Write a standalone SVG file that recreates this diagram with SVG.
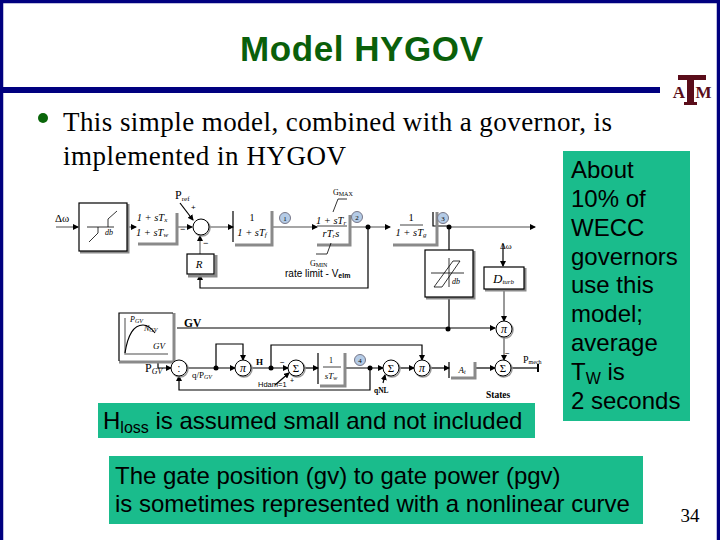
<svg xmlns="http://www.w3.org/2000/svg" width="720" height="540" viewBox="0 0 720 540">
<style>
.t{font-family:"Liberation Sans",Arial,sans-serif;fill:#000}
.s{font-family:"Liberation Serif","Times New Roman",serif;fill:#000}
.i{font-style:italic}
.n{font-size:8px}
.c{text-anchor:middle}
.l{fill:none;stroke:#000;stroke-width:1.2}
.h{fill:none;stroke:#000;stroke-width:.8}
.g{fill:none;stroke:#888;stroke-width:1.5}
.sh{fill:none;stroke:#8a8a8a;stroke-width:3}
.f{fill:none;stroke:#444;stroke-width:1}
.b{fill:#fff;stroke:#000;stroke-width:1.2}
.o{fill:#fff;stroke:#000;stroke-width:1}
.cs{fill:none;stroke:#999;stroke-width:1.5}
.st{fill:#b4cbe6;stroke:#778;stroke-width:1}
.green{fill:#1abc8c}
.lg{fill:#5a0d1a;font-family:"Liberation Serif",serif;font-weight:bold;font-size:17px;text-anchor:middle}
</style>
<defs>
<marker id="a" markerWidth="6" markerHeight="6" refX="5" refY="3" orient="auto" markerUnits="userSpaceOnUse"><path d="M0 0L6 3L0 6Z" fill="#000"/></marker>
</defs>
<rect width="720" height="540" fill="#fff"/>
<path d="M0 1.500H720M1.500 0V540M718.500 0V540" fill="none" stroke="#00007f" stroke-width="3.500"/>
<path d="M0 90H660" stroke="#00007f" stroke-width="6"/>
<g id="logo"><path d="M678 75H706V80H694V102H697V105H684V102H687V80H678Z" fill="#5a0d1a"/><text x="679" y="98" class="lg">A</text><text x="703.500" y="98" class="lg">M</text></g>
<text id="title" x="240" y="61" class="t" font-size="35" font-weight="bold" textLength="243" style="fill:#0a5f0a">Model HYGOV</text>
<g id="bullet"><circle cx="43" cy="118" r="5" fill="#0a660a"/></g>
<g id="body"><text x="63" y="131" class="s" font-size="27" textLength="549">This simple model, combined with a governor, is</text><text x="63" y="165" class="s" font-size="27" textLength="283">implemented in HYGOV</text></g>
<g id="note-wecc"><rect x="563" y="151" width="127" height="270" class="green"/><g class="t" font-size="24"><text x="571" y="178">About</text><text x="571" y="207">10% of</text><text x="571" y="236">WECC</text><text x="571" y="265">governors</text><text x="571" y="293">use this</text><text x="571" y="322">model;</text><text x="571" y="351">average</text><text x="571" y="380">T<tspan font-size="16" dy="4">W</tspan><tspan dy="-4"> is</tspan></text><text x="571" y="409">2 seconds</text></g></g>
<g id="note-hloss"><rect x="98" y="403" width="437" height="35" class="green"/><text x="103" y="429" class="t" font-size="24">H<tspan font-size="16" dy="4">loss</tspan><tspan dy="-4"> is assumed small and not included</tspan></text></g>
<g id="note-gate"><rect x="109" y="456" width="534" height="68" class="green"/><g class="t" font-size="24"><text x="115" y="484">The gate position (gv) to gate power (pgv)</text><text x="115" y="512">is sometimes represented with a nonlinear curve</text></g></g>
<text id="page" x="690" y="522" class="s c" font-size="19">34</text>
<g id="connectors">
<path class="g" d="M56 227H78" marker-end="url(#a)"/><path class="g" d="M128 227H136" marker-end="url(#a)"/><path class="g" d="M178 227H192" marker-end="url(#a)"/><path class="g" d="M209 227H233" marker-end="url(#a)"/><path class="g" d="M272 227H317" marker-end="url(#a)"/>
<path class="g" d="M350 227H390" marker-end="url(#a)"/><path class="g" d="M449 227H535" marker-end="url(#a)"/>
<path class="l" d="M180 203L193 220" marker-end="url(#a)"/>
<path class="g" d="M200 254V236" marker-end="url(#a)"/>
<path class="l" d="M368 227V288H200V275" marker-end="url(#a)"/>
<path class="l" d="M433 212V226H449M449 227V250M449 297V329"/>
<path class="l" d="M503 244V266" marker-end="url(#a)"/>
<path class="h" d="M504 289V321" marker-end="url(#a)"/>
<path class="l" d="M177 328H495" marker-end="url(#a)"/>
<path class="l" d="M158 363V368H171" marker-end="url(#a)"/>
<path class="l" d="M187 368H235" marker-end="url(#a)"/>
<path class="l" d="M216 368V344H243V360" marker-end="url(#a)"/>
<path class="l" d="M251 368H288" marker-end="url(#a)"/>
<path class="l" d="M271 368V345H422V360" marker-end="url(#a)"/>
<path class="l" d="M275 385L289 373" marker-end="url(#a)"/>
<path class="l" d="M304 368H318" marker-end="url(#a)"/>
<path class="l" d="M345 368H383" marker-end="url(#a)"/>
<path class="l" d="M370 368V390H179V376" marker-end="url(#a)"/>
<path class="l" d="M383 383L385 375" marker-end="url(#a)"/>
<path class="l" d="M399 368H414" marker-end="url(#a)"/>
<path class="l" d="M430 368H449" marker-end="url(#a)"/>
<path class="l" d="M475 368H495" marker-end="url(#a)"/>
<path class="h" d="M504 337V360" marker-end="url(#a)"/>
<path class="l" d="M511 368H538"/><path d="M538 364V372" stroke="#000" stroke-width="2"/>
<circle cx="368" cy="227" r="2.500"/><circle cx="449" cy="227" r="2.500"/><circle cx="448" cy="329" r="2.500"/><circle cx="216" cy="368" r="2.500"/><circle cx="271" cy="368" r="2.500"/><circle cx="370" cy="368" r="2.500"/>
</g>
<g id="db1"><path class="sh" d="M128 204V252H80" stroke-width="2"/><rect x="79" y="203" width="48" height="48" class="b"/><path class="h" d="M87 227H114M108 227V219L117 211M98 227V233L89 242"/><text x="105" y="235" class="s i n">db</text></g>
<g id="leadlag"><path class="sh" d="M177 213V244H138"/><text x="152" y="221" class="s c i" font-size="10.500">1 + sT<tspan font-size="7" dy="1">x</tspan></text><text x="152" y="236" class="s c i" font-size="10.500">1 + sT<tspan font-size="7" dy="1">w</tspan></text></g>
<g id="sum1"><circle cx="202" cy="228" r="8" class="cs"/><circle cx="201" cy="227" r="8" class="o"/><text x="180" y="232" class="t" font-size="9">−</text><text x="191" y="210" class="t" font-size="8">+</text><text x="203" y="246" class="t" font-size="9">−</text><text x="175" y="199" class="s" font-size="12">P<tspan font-size="7" dy="2">ref</tspan></text><text x="55" y="222" class="s" font-size="11">Δω</text></g>
<g id="R"><path class="sh" d="M216 255V276H188" stroke-width="2"/><rect x="187" y="254" width="27" height="20" class="b"/><text x="199" y="268" class="s c i" font-size="11">R</text></g>
<g id="filter1"><path class="l" d="M233 211V242"/><path class="sh" d="M272 211V245H235"/><text x="252" y="221" class="s c" font-size="10">1</text><text x="252" y="236" class="s c i" font-size="10.500">1 + sT<tspan font-size="7" dy="1">f</tspan></text><circle cx="285" cy="218" r="5.500" class="st"/><text x="285" y="221" class="s c" font-size="7">1</text></g>
<g id="gate"><path class="sh" d="M350 215V245H317"/><text x="331" y="224" class="s c i" font-size="10.500">1 + sT<tspan font-size="7" dy="1">r</tspan></text><path class="f" d="M317 226H347"/><text x="331" y="237" class="s c i" font-size="10.500">rT<tspan font-size="7" dy="1">r</tspan><tspan dy="-1">s</tspan></text><circle cx="357" cy="217" r="5.500" class="st"/><text x="357" y="220" class="s c" font-size="7">2</text><path class="h" d="M333 212L338 199H347"/><path class="h" d="M331 243L327 254H316"/><text x="333" y="195" class="s n">G<tspan font-size="6" dy="1">MAX</tspan></text><text x="310" y="266" class="s n">G<tspan font-size="6" dy="1">MIN</tspan></text><text x="285" y="277" class="t" font-size="10">rate limit - V<tspan font-size="7" dy="1" font-weight="bold">elm</tspan></text></g>
<g id="servo"><path class="sh" d="M437 212V245H393"/><text x="411" y="221" class="s c" font-size="10.500">1</text><path class="f" d="M400 225H423"/><text x="411" y="236" class="s c i" font-size="10.500">1 + sT<tspan font-size="7" dy="1">g</tspan></text><circle cx="443" cy="218" r="5.500" class="st"/><text x="443" y="221" class="s c" font-size="7">3</text></g>
<g id="db2"><path class="sh" d="M474 251V298H426" stroke-width="2"/><rect x="425" y="250" width="48" height="47" class="b"/><path class="h" d="M431 273H464M449 258V287M434 287L453 261H460L442 287Z"/><text x="452" y="284" class="s i n">db</text></g>
<g id="dturb"><path class="sh" d="M525 268V290H485" stroke-width="2"/><rect x="484" y="267" width="40" height="22" class="b"/><text x="493" y="283" class="s i" font-size="13">D<tspan font-size="7" dy="1">turb</tspan></text><text x="500" y="249" class="s" font-size="9">Δω</text></g>
<g id="gvcurve"><path class="sh" d="M174 313V362H119" stroke-width="3"/><path d="M119 361V313H173" class="l"/><path d="M125 318V354H168" class="g"/><path class="l" d="M125 353C127 340 131 325 143 325C148 325 152 329 155 333"/><text x="130" y="322" class="s i n">P<tspan font-size="6" dy="1">GV</tspan></text><text x="144" y="331" class="s i n">N<tspan font-size="6" dy="1">GV</tspan></text><text x="153" y="349" class="s i" font-size="9">GV</text></g>
<g id="lowerlabels"><text x="184" y="327" class="s" font-size="11.500" font-weight="bold">GV</text><text x="145" y="372" class="s" font-size="12">P<tspan class="i" font-size="8" dy="2">GV</tspan></text><text x="192" y="378" class="s" font-size="9">q/P<tspan class="i" font-size="6" dy="1">GV</tspan></text><text x="256" y="365" class="s" font-size="9" font-weight="bold">H</text><text x="258" y="387" class="t" font-size="7.500">Hdam=1</text><text x="280" y="365" class="t" font-size="8">−</text><text x="290" y="383" class="t" font-size="7">+</text><text x="374" y="393" class="s" font-size="7.500" font-weight="bold">qNL</text><text x="523" y="363" class="s" font-size="10">P<tspan font-size="6" dy="1">mech</tspan></text><text x="486" y="398" class="s" font-size="9.500" font-weight="bold">States</text><text x="505" y="356" class="t" font-size="8">−</text></g>
<g id="divide"><circle cx="180" cy="369" r="8" class="cs"/><circle cx="179" cy="368" r="8" class="o"/><text x="179" y="372" class="t c" font-size="10">:</text></g>
<g id="pi1"><circle cx="244" cy="369" r="8" class="cs"/><circle cx="243" cy="368" r="8" class="o"/><text x="243" y="372" class="s c i" font-size="12">π</text></g>
<g id="sig1"><circle cx="297" cy="369" r="8" class="cs"/><circle cx="296" cy="368" r="8" class="o"/><text x="296" y="372" class="s c" font-size="11">Σ</text></g>
<g id="water"><path class="l" d="M318 353V384"/><path class="sh" d="M345 353V386H320"/><text x="331" y="363" class="s c" font-size="8">1</text><path class="f" d="M323 367H341"/><text x="331" y="379" class="s c i" font-size="9">sT<tspan font-size="6" dy="1">w</tspan></text><circle cx="360" cy="360" r="5.500" class="st"/><text x="360" y="363" class="s c" font-size="7">4</text></g>
<g id="sig2"><circle cx="392" cy="369" r="8" class="cs"/><circle cx="391" cy="368" r="8" class="o"/><text x="391" y="372" class="s c" font-size="11">Σ</text></g>
<g id="pi2"><circle cx="423" cy="369" r="8" class="cs"/><circle cx="422" cy="368" r="8" class="o"/><text x="422" y="372" class="s c i" font-size="12">π</text></g>
<g id="at"><path class="l" d="M449 362V378"/><path class="sh" d="M475 362V378H451"/><text x="462" y="373" class="s c i" font-size="9">A<tspan font-size="6" dy="1">t</tspan></text></g>
<g id="sig3"><circle cx="504" cy="369" r="8" class="cs"/><circle cx="503" cy="368" r="8" class="o"/><text x="503" y="372" class="s c" font-size="11">Σ</text></g>
<g id="pi3"><circle cx="505" cy="330" r="8" class="cs"/><circle cx="504" cy="329" r="8" class="o"/><text x="504" y="333" class="s c i" font-size="12">π</text></g>
</svg>
